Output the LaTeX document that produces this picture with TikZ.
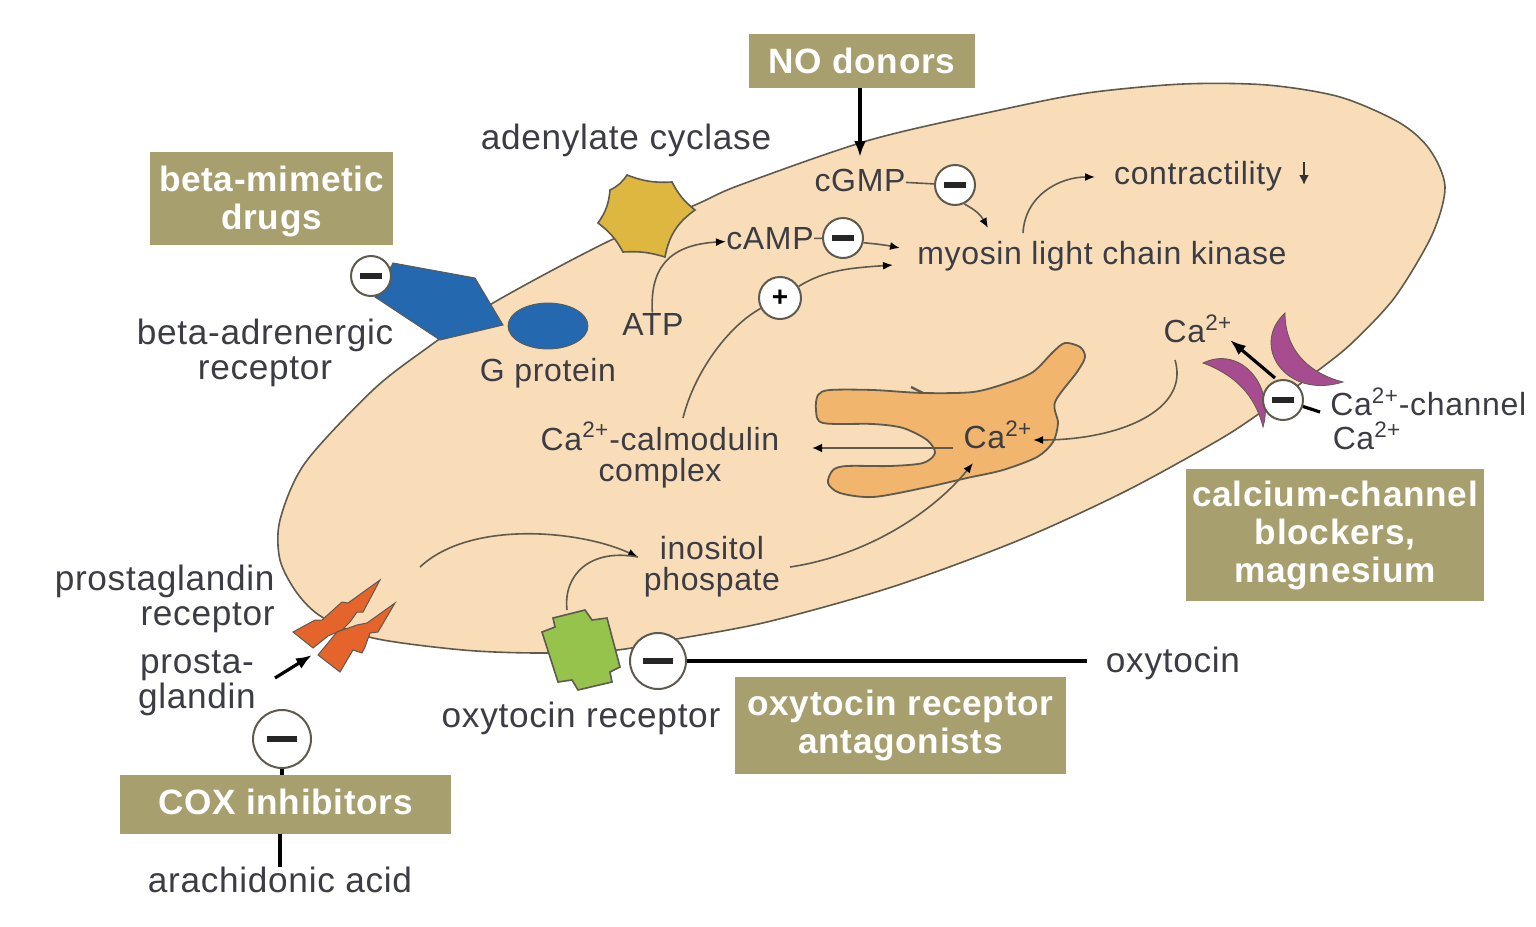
\documentclass[tikz,border=0pt]{standalone}
\usepackage{fontspec}
\setmainfont[LetterSpace=2]{Liberation Sans}
\usetikzlibrary{positioning,shapes.geometric,arrows.meta}
\definecolor{cellfill}{HTML}{F8DDB8}
\definecolor{cellline}{HTML}{5E5A4E}
\definecolor{boxfill}{HTML}{A89F6F}
\definecolor{labeltext}{HTML}{3C3C44}
\definecolor{storefill}{HTML}{F2B56E}
\definecolor{receptorblue}{HTML}{2468B0}
\definecolor{cyclasefill}{HTML}{DDB73F}
\definecolor{pgfill}{HTML}{E4642C}
\definecolor{oxtfill}{HTML}{96C34C}
\definecolor{channelfill}{HTML}{A84C90}
\newcommand{\catwo}{Ca\textsuperscript{2+}}
\newcommand{\minusbar}[2]{\textcolor{black!85}{\rule{#1}{#2}}}
\tikzset{
	labelnode/.style={inner sep=0pt,yshift=-1.5pt,text=labeltext,font=\fontsize{16}{15.7}\selectfont,align=center},
	outerlabel/.style={labelnode,font=\fontsize{17.6}{17.5}\selectfont},
	drugbox/.style={fill=boxfill,text=white,inner sep=0pt,align=center,font=\bfseries\fontsize{17.6}{19}\selectfont},
	signnode/.style={circle,draw=cellline,fill=white,line width=1pt,inner sep=0pt},
	signal/.style={cellline,line width=0.8pt,-{Latex[length=5pt,width=4pt,black]}},
	plainline/.style={cellline,line width=0.8pt},
	heavy/.style={black,line width=1.6pt},
	heavytip/.style={heavy,-{Latex[length=8pt,width=6pt]}},
}
\begin{document}
\begin{tikzpicture}[x=0.5pt,y=-0.5pt]
	\useasboundingbox (0,0) rectangle (1536,926);

	\draw[cellline,fill=cellfill,line width=0.8pt] plot[smooth cycle,tension=0.5] coordinates {(493,303) (607,242) (695,205) (740,185) (870,140) (1000,110) (1087,93) (1183,84) (1267,85) (1340,97) (1400,123) (1430,150) (1445,187) (1432,235) (1395,297) (1353,342) (1320,369) (1260,413) (1217,441) (1124,492) (1017,541) (892,587) (767,622) (671,640) (617,650) (540,653) (463,650) (373,638) (322,617) (297,593) (280,560) (280,520) (305,463) (373,390) (427,348)};

	\draw[cellline,fill=storefill,line width=0.9pt] plot[smooth cycle,tension=0.5] coordinates {(830,390) (873,390) (923,393) (973,392) (1007,383) (1033,372) (1053,352) (1065,343) (1080,347) (1085,357) (1077,372) (1055,402) (1058,423) (1053,442) (1037,457) (1003,470) (967,478) (923,488) (873,497) (840,493) (828,483) (833,470) (847,466) (890,466) (923,463) (935,453) (927,440) (903,428) (873,424) (823,423) (816,410) (818,395)};

	\draw[cellline,fill=receptorblue,line width=0.5pt] (393,263) -- (475,278) -- (503,325) -- (440,340) -- (375,297) -- cycle;
	\node[draw=cellline,fill=receptorblue,ellipse,minimum width=40pt,minimum height=23pt,inner sep=0pt] (gprotein) at (548,326) {};

	\draw[cellline,fill=cyclasefill,line width=0.8pt] (627,175) to[bend right=12] (672,182) to[bend right=12] (695,210) to[bend right=22] (665,257) to[bend right=10] (623,252) to[bend right=12] (598,223) to[bend right=15] (610,190) to[bend right=15] (627,175) -- cycle;

	\draw[cellline,fill=pgfill,line width=0.5pt] (293,632) -- (315,620) -- (322,620) -- (342,602) -- (348,603) -- (380,580) -- (363,612) -- (357,612) -- (350,622) -- (342,630) -- (328,636) -- (313,648) -- cycle;
	\draw[cellline,fill=pgfill,line width=0.5pt] (318,655) -- (337,632) -- (357,625) -- (367,623) -- (395,603) -- (378,632) -- (370,633) -- (365,647) -- (362,653) -- (353,650) -- (340,672) -- cycle;

	\draw[cellline,fill=oxtfill,line width=0.8pt] (542,632) -- (555,627) -- (553,618) -- (585,610) -- (592,620) -- (607,618) -- (620,667) -- (610,672) -- (612,682) -- (578,690) -- (572,680) -- (558,682) -- cycle;

	\draw[cellline,fill=channelfill,line width=0.4pt] (1203,363) .. controls (1240,345) and (1275,385) .. (1263,427) .. controls (1255,395) and (1235,375) .. (1203,363) -- cycle;
	\draw[cellline,fill=channelfill,line width=0.4pt] (1285,313) .. controls (1250,345) and (1285,400) .. (1343,382) .. controls (1315,375) and (1285,355) .. (1285,313) -- cycle;

	\node[outerlabel] (adenylate) at (626,137) {adenylate cyclase};
	\node[labelnode] (cgmp) at (860,177) {cGMP};
	\node[labelnode] (contract) at (1198,173) {contractility};
	\node[labelnode] (camp) at (770,236) {cAMP};
	\node[labelnode] (mlck) at (1102,253) {myosin light chain kinase};
	\node[labelnode] (caupper) at (1198,326) {\catwo};
	\node[labelnode,anchor=west] (cachannel) at (1330,399) {\catwo-channel};
	\node[labelnode] (caouter) at (1367,433) {\catwo};
	\node[outerlabel] (betarec) at (265,350) {beta-adrenergic\\receptor};
	\node[labelnode] (gproteinlabel) at (548,370) {G protein};
	\node[labelnode] (atp) at (653,321) {ATP};
	\node[labelnode] (calmodulin) at (660,452) {\catwo-calmodulin\\complex};
	\node[labelnode] (castore) at (998,432) {\catwo};
	\node[labelnode] (inositol) at (712,564) {inositol\\phospate};
	\node[outerlabel,align=right,anchor=east] (pgrec) at (275,596) {prostaglandin\\receptor};
	\node[outerlabel] (pg) at (197,680) {prosta-\\glandin};
	\node[outerlabel] (oxtrec) at (581,715) {oxytocin receptor};
	\node[outerlabel] (oxt) at (1173,660) {oxytocin};
	\node[outerlabel] (arachidonic) at (280,877) {arachidonic acid};

	\node[drugbox,minimum width=113pt,minimum height=27pt] (nobox) at (862,61) {NO donors};
	\node[drugbox,minimum width=121.5pt,minimum height=46.5pt] (betabox) at (271.5,198.5) {\rule{0pt}{16pt}beta-mimetic\\drugs};
	\node[drugbox,minimum width=149pt,minimum height=66pt] (cabox) at (1335,535) {calcium-channel\\blockers,\\magnesium};
	\node[drugbox,minimum width=165.5pt,minimum height=48.5pt] (oxtbox) at (900.5,725.5) {oxytocin receptor\\antagonists};
	\node[drugbox,minimum width=165.5pt,minimum height=29.5pt] (coxbox) at (285.5,804.5) {\rule[-3pt]{0pt}{3pt}COX inhibitors};

	\node[signnode,minimum size=20pt] (betaminus) at (371,276) {\minusbar{11pt}{2.6pt}};
	\node[signnode,minimum size=20pt] (cgmpminus) at (955,185) {\minusbar{11pt}{2.6pt}};
	\node[signnode,minimum size=20pt] (campminus) at (843,238) {\minusbar{11pt}{2.6pt}};
	\node[signnode,minimum size=21pt] (caplus) at (780,298) {\bfseries\fontsize{14}{14}\selectfont +};
	\node[signnode,minimum size=20pt] (channelminus) at (1283,400) {\minusbar{11pt}{2.6pt}};
	\node[signnode,minimum size=28pt] (oxtminus) at (658,661) {\minusbar{15pt}{3.4pt}};
	\node[signnode,minimum size=29pt] (coxminus) at (282,739) {\minusbar{15pt}{3.4pt}};

	\coordinate (mlcktop) at (988,228);
	\coordinate (mlckleft) at (900,248);
	\coordinate (mlckplus) at (893,265);
	\coordinate (mlckout) at (1023,233);
	\coordinate (contractin) at (1095,177);
	\coordinate (contractdowntop) at (1304,162);
	\coordinate (contractdownend) at (1304,185);
	\coordinate (storeout) at (953,448);
	\coordinate (calmodulinin) at (812,448);
	\coordinate (storein) at (1033,440);
	\coordinate (storebelow) at (973,463);
	\coordinate (inositolin) at (638,557);
	\coordinate (pgstart) at (420,567);
	\coordinate (oxtstart) at (567,610);
	\coordinate (pgtip) at (312,655);
	\coordinate (pgtail) at (275,678);
	\coordinate (channelin) at (1275,378);
	\coordinate (channelout) at (1230,340);
	\coordinate (channelfree) at (1320,412);
	\coordinate (calmodulinout) at (683,418);
	\coordinate (caupperout) at (1175,360);
	\coordinate (inositolout) at (790,567);
	\coordinate (oxtend) at (1087,661);
	\coordinate (noend) at (860,157);
	\coordinate (storetickfrom) at (911,387);
	\coordinate (storetickto) at (923,393);

	\draw[heavytip,line width=2pt] (nobox.south -| cgmp) -- (noend);
	\draw[plainline] (cgmp) -- (cgmpminus);
	\draw[signal] (cgmpminus) .. controls (965,205) and (978,210) .. (mlcktop);
	\draw[plainline] (camp) -- (campminus);
	\draw[signal] (campminus) .. controls (865,243) and (880,244) .. (mlckleft);
	\draw[signal] (atp) .. controls (650,272) and (665,245) .. (camp);
	\draw[plainline] (calmodulinout) .. controls (695,370) and (730,325) .. (caplus);
	\draw[signal] (caplus) .. controls (825,270) and (850,268) .. (mlckplus);
	\draw[signal] (mlckout) .. controls (1025,195) and (1060,177) .. (contractin);
	\draw[black!80,line width=1.2pt,-{Latex[length=5pt,width=5pt]}] (contractdowntop) -- (contractdownend);
	\draw[signal] (caupperout) .. controls (1190,410) and (1120,440) .. (storein);
	\draw[cellline,line width=1.2pt,-{Latex[length=5pt,width=4.5pt,black]}] (storeout) -- (calmodulinin);
	\draw[signal] (inositolout) .. controls (870,555) and (935,510) .. (storebelow);
	\draw[signal] (pgstart) .. controls (470,520) and (580,530) .. (inositolin);
	\draw[plainline] (oxtstart) .. controls (563,575) and (590,548) .. (inositolin);
	\draw[heavy] (oxtminus) -- (oxtend);
	\draw[heavytip] (pgtail) -- (pgtip);
	\draw[heavytip] (channelin) -- (channelout);
	\draw[heavy] (channelfree) -- (channelminus);
	\draw[heavy] (coxminus) -- (coxminus |- coxbox.north);
	\draw[heavy] (coxbox.south -| arachidonic) -- (arachidonic);
	\draw[plainline,line width=1.2pt] (storetickfrom) -- (storetickto);
\end{tikzpicture}
\end{document}
